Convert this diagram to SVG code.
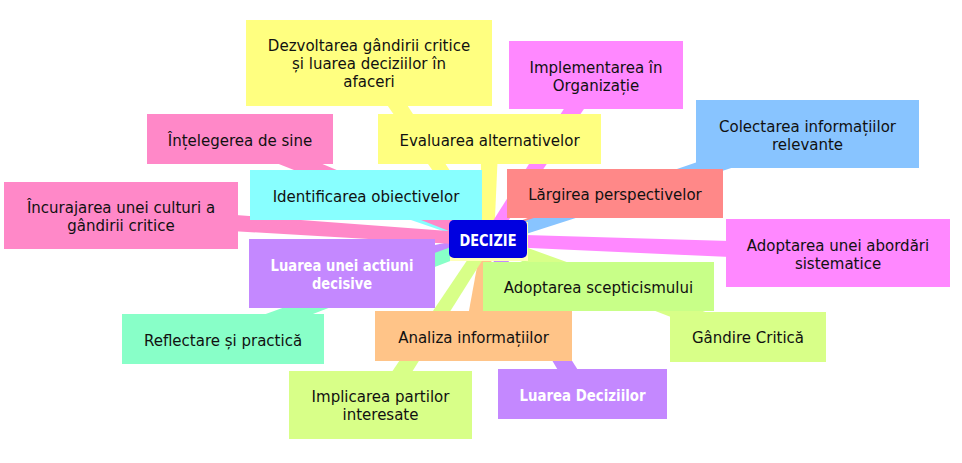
<svg xmlns="http://www.w3.org/2000/svg" width="962" height="463" viewBox="0 0 962 463">
<style>
text{font-family:"DejaVu Sans","Liberation Sans",sans-serif;font-size:15px;fill:#111;text-anchor:middle}
text.w{fill:#fff;font-weight:bold}
.yel{fill:#ffff80}.mag{fill:#ff88ff}.pnk{fill:#ff88c8}.cya{fill:#88ffff}.blu{fill:#88c4ff}
.sal{fill:#ff8888}.pur{fill:#c488ff}.grn{fill:#c8ff88}.lim{fill:#d8ff88}.min{fill:#88ffc8}.org{fill:#ffc488}
</style>
<rect width="962" height="463" fill="#fff"/>
<g id="connectors">
<polygon class="cya" points="490.08,234.37 369.11,186.56 362.89,203.44 485.92,245.63"/>
<polygon class="sal" points="490.06,245.63 618.1,201.95 611.9,185.05 485.94,234.37"/>
<polygon class="pur" points="486.66,234.15 339.98,264.73 344.02,282.27 489.34,245.85"/>
<polygon class="yel" points="494,240.09 498.5,139.13 480.5,138.87 482,239.91"/>
<polygon class="yel" points="492.98,236.65 376.47,57.98 361.53,68.02 483.02,243.35"/>
<polygon class="mag" points="493.02,243.29 603.53,79.93 588.47,70.07 482.98,236.71"/>
<polygon class="blu" points="489.89,245.69 810.34,142.54 804.66,125.46 486.11,234.31"/>
<polygon class="pnk" points="490.26,234.44 243.39,130.67 236.61,147.33 485.74,245.56"/>
<polygon class="pnk" points="488.4,234.01 121.6,206.52 120.4,224.48 487.6,245.99"/>
<polygon class="mag" points="487.78,246 837.67,261.99 838.33,244.01 488.22,234"/>
<polygon class="grn" points="485.67,245.53 595.01,294.8 601.99,278.2 490.33,234.47"/>
<polygon class="lim" points="485.9,245.62 744.85,345.43 751.15,328.57 490.1,234.38"/>
<polygon class="min" points="485.9,234.38 219.85,330.57 226.15,347.43 490.1,245.62"/>
<polygon class="org" points="482.07,239.11 464.6,334.66 482.4,337.34 493.93,240.89"/>
<polygon class="lim" points="482.97,236.72 372.96,400.09 388.04,409.91 493.03,243.28"/>
<polygon class="pur" points="482.89,243.14 574.83,398.71 590.17,389.29 493.11,236.86"/>
</g>
<g id="n-dezvoltarea"><rect class="yel" x="246" y="20" width="246" height="86"/>
<text x="369" y="50.5">Dezvoltarea gândirii critice</text><text x="369" y="68.8">și luarea deciziilor în</text><text x="369" y="87">afaceri</text></g>
<g id="n-implementarea"><rect class="mag" x="509" y="41" width="174" height="68"/>
<text x="596" y="72.5">Implementarea în</text><text x="596" y="90.5">Organizație</text></g>
<g id="n-intelegerea"><rect class="pnk" x="147" y="114" width="186" height="50"/>
<text x="240" y="145.5">Înțelegerea de sine</text></g>
<g id="n-evaluarea"><rect class="yel" x="378" y="114" width="223" height="50"/>
<text x="489.5" y="145.5">Evaluarea alternativelor</text></g>
<g id="n-colectarea"><rect class="blu" x="696" y="100" width="223" height="68"/>
<text x="807.5" y="131.5">Colectarea informațiilor</text><text x="807.5" y="149.5">relevante</text></g>
<g id="n-identificarea"><rect class="cya" x="250" y="170" width="232" height="50"/>
<text x="366" y="201.5">Identificarea obiectivelor</text></g>
<g id="n-largirea"><rect class="sal" x="507" y="169" width="216" height="49"/>
<text x="615" y="200">Lărgirea perspectivelor</text></g>
<g id="n-incurajarea"><rect class="pnk" x="4" y="182" width="234" height="67"/>
<text x="121" y="213.3">Încurajarea unei culturi a</text><text x="121" y="231">gândirii critice</text></g>
<g id="n-sistematice"><rect class="mag" x="726" y="219" width="224" height="68"/>
<text x="838" y="250.5">Adoptarea unei abordări</text><text x="838" y="268.5">sistematice</text></g>
<g id="n-actiuni"><rect class="pur" x="249" y="239" width="186" height="69"/>
<text class="w" x="342" y="271" textLength="143" lengthAdjust="spacingAndGlyphs">Luarea unei actiuni</text><text class="w" x="342" y="289" textLength="60" lengthAdjust="spacingAndGlyphs">decisive</text></g>
<g id="n-scepticism"><rect class="grn" x="483" y="262" width="231" height="49"/>
<text x="598.5" y="292.5">Adoptarea scepticismului</text></g>
<g id="n-reflectare"><rect class="min" x="122" y="314" width="202" height="50"/>
<text x="223" y="345.5">Reflectare și practică</text></g>
<g id="n-analiza"><rect class="org" x="375" y="311" width="197" height="50"/>
<text x="473.5" y="342.5">Analiza informațiilor</text></g>
<g id="n-gandire"><rect class="lim" x="670" y="312" width="156" height="50"/>
<text x="748" y="343">Gândire Critică</text></g>
<g id="n-implicarea"><rect class="lim" x="289" y="371" width="183" height="68"/>
<text x="380.5" y="402">Implicarea partilor</text><text x="380.5" y="419.5">interesate</text></g>
<g id="n-luarea-deciziilor"><rect class="pur" x="498" y="369" width="169" height="50"/>
<text class="w" x="582.5" y="400.5" textLength="126" lengthAdjust="spacingAndGlyphs">Luarea Deciziilor</text></g>
<g id="n-decizie"><rect x="450" y="222" width="78" height="39" fill="#ffffb8"/>
<rect x="449" y="220" width="78" height="38" rx="5" fill="#0000e0"/>
<text class="w" x="488" y="245.5" textLength="57" lengthAdjust="spacingAndGlyphs">DECIZIE</text></g>
</svg>
